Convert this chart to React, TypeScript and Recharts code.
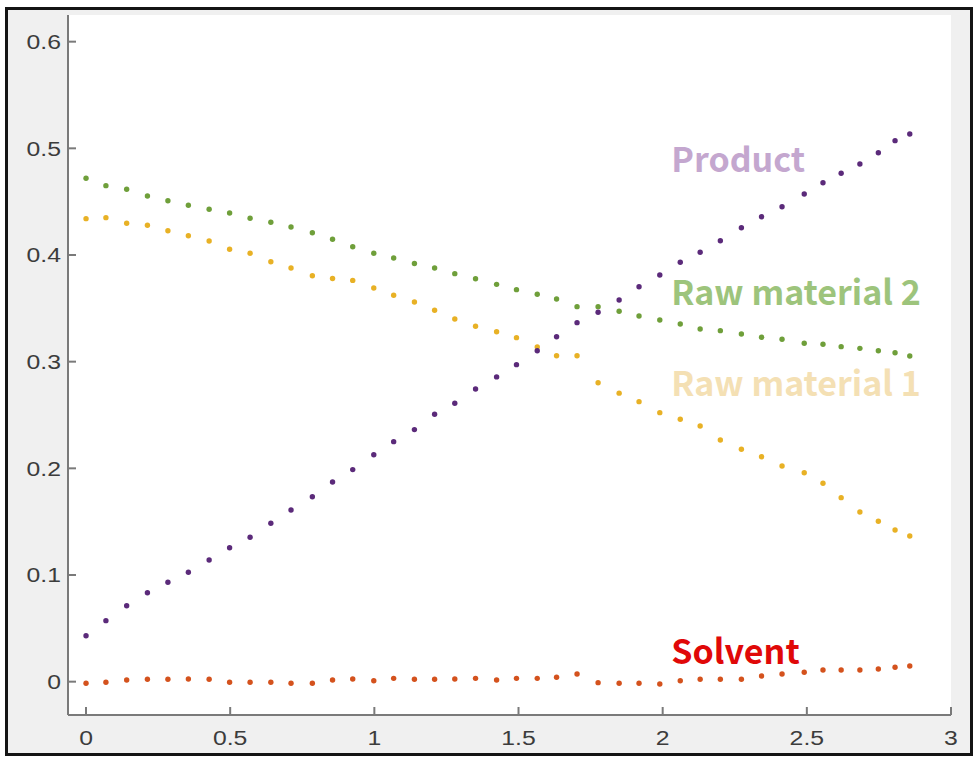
import React from 'react';
import { ScatterChart, Scatter, XAxis, YAxis, CartesianGrid, ReferenceDot } from 'recharts';

const time = [
  0, 0.069, 0.141, 0.213, 0.284, 0.355, 0.427, 0.498, 0.569, 0.641,
  0.711, 0.785, 0.855, 0.925, 0.998, 1.067, 1.139, 1.209, 1.279, 1.351,
  1.424, 1.493, 1.565, 1.632, 1.703, 1.776, 1.849, 1.918, 1.99, 2.061,
  2.13, 2.2, 2.273, 2.343, 2.414, 2.491, 2.556, 2.619, 2.684, 2.748,
  2.806, 2.857,
];

const product = [
  0.0431, 0.0572, 0.0712, 0.0834, 0.0932, 0.1026, 0.114, 0.1256, 0.1354, 0.1485,
  0.161, 0.1734, 0.1872, 0.1988, 0.2128, 0.225, 0.2363, 0.2507, 0.261, 0.2744,
  0.2857, 0.2972, 0.3103, 0.3234, 0.3366, 0.3463, 0.3578, 0.3702, 0.3813, 0.3932,
  0.4026, 0.4134, 0.4256, 0.4359, 0.4453, 0.4572, 0.4678, 0.4766, 0.4853, 0.4959,
  0.5072, 0.5134,
];

const rawMaterial2 = [
  0.4719, 0.465, 0.4616, 0.4553, 0.4509, 0.4466, 0.4429, 0.4394, 0.4344, 0.4307,
  0.4263, 0.4209, 0.4147, 0.4078, 0.4016, 0.3972, 0.392, 0.3878, 0.3825, 0.3778,
  0.3725, 0.3675, 0.3632, 0.3588, 0.3516, 0.3516, 0.3472, 0.3428, 0.3391, 0.3353,
  0.3306, 0.3291, 0.326, 0.3229, 0.321, 0.3172, 0.3163, 0.3141, 0.3125, 0.3103,
  0.3084, 0.3053,
];

const rawMaterial1 = [
  0.4341, 0.435, 0.4297, 0.4279, 0.4228, 0.4181, 0.4131, 0.4054, 0.4016, 0.3937,
  0.3878, 0.3806, 0.378, 0.3762, 0.3691, 0.3622, 0.356, 0.3482, 0.34, 0.3332,
  0.3281, 0.3225, 0.3138, 0.3056, 0.3056, 0.2803, 0.2705, 0.2625, 0.2522, 0.246,
  0.2397, 0.2266, 0.2179, 0.2109, 0.2022, 0.1959, 0.186, 0.1725, 0.1591, 0.1504,
  0.1422, 0.1366,
];

const solvent = [
  -0.0015, -0.0006, 0.0016, 0.0022, 0.0022, 0.0025, 0.0022, -0.0006, -0.0006, -0.0006,
  -0.0015, -0.0015, 0.0016, 0.0025, 0.0009, 0.0031, 0.0022, 0.0022, 0.0025, 0.0031,
  0.0016, 0.0031, 0.0031, 0.0041, 0.0072, -0.0009, -0.0015, -0.0015, -0.0022, 0.0009,
  0.0022, 0.0022, 0.0022, 0.0053, 0.0072, 0.0088, 0.011, 0.011, 0.011, 0.0119,
  0.0135, 0.0147,
];

const xTicks = [0, 0.5, 1, 1.5, 2, 2.5, 3];
const yTicks = [0, 0.1, 0.2, 0.3, 0.4, 0.5, 0.6];

const annotations = [
  { text: 'Product', x: 2.03, y: 0.478, color: '#c4a7cf' },
  { text: 'Raw material 2', x: 2.03, y: 0.353, color: '#9dc47c' },
  { text: 'Raw material 1', x: 2.03, y: 0.268, color: '#f4e0b4' },
  { text: 'Solvent', x: 2.03, y: 0.0166, color: '#e00808' },
];

const toPoints = (ys: number[]) => time.map((x, i) => ({ x, y: ys[i] }));

const Dot = (props: any) => {
  const { cx, cy, fill } = props;
  if (cx == null || cy == null) return null;
  return <circle cx={cx} cy={cy} r={2.7} fill={fill} />;
};

const TICK_FONT = 'Liberation Sans, Arial, sans-serif';

const XTick = (props: any) => {
  const { x, y, payload } = props;
  return (
    <text
      transform={`translate(${x},${y}) scale(1.18,1)`}
      textAnchor="middle"
      dy="0.71em"
      fontSize={21}
      fontFamily={TICK_FONT}
      fill="#3c3c3c"
    >
      {String(payload.value)}
    </text>
  );
};

const YTick = (props: any) => {
  const { x, y, payload } = props;
  return (
    <text
      transform={`translate(${x},${y}) scale(1.18,1)`}
      textAnchor="end"
      dy="0.355em"
      fontSize={21}
      fontFamily={TICK_FONT}
      fill="#3c3c3c"
    >
      {String(payload.value)}
    </text>
  );
};

const makeLabel = (text: string, color: string) => (p: any) => {
  const vb = p.viewBox || {};
  const x = (vb.x ?? 0) + (vb.width ?? 0) / 2;
  const y = (vb.y ?? 0) + (vb.height ?? 0) / 2;
  return (
    <text
      x={x}
      y={y}
      fill={color}
      fontSize={34}
      fontWeight={700}
      fontFamily="Noto Sans CJK SC, Noto Sans, sans-serif"
      textAnchor="start"
    >
      {text}
    </text>
  );
};

export default function App() {
  return (
    <div style={{ position: 'absolute', left: 0, top: 0, width: 976, height: 760, background: '#ffffff' }}>
      <div
        style={{
          position: 'absolute',
          left: 5,
          top: 7,
          width: 968,
          height: 749,
          border: '3.5px solid #141414',
          boxSizing: 'border-box',
          background: '#f0f0f0',
        }}
      />
      <div style={{ position: 'absolute', left: 0, top: 0 }}>
        <ScatterChart width={976} height={760} margin={{ top: 15, right: 25, bottom: 15, left: 0 }}>
          <CartesianGrid fill="#ffffff" horizontal={false} vertical={false} stroke="none" />
          <XAxis
            type="number"
            dataKey="x"
            domain={[-0.0625, 3]}
            ticks={xTicks}
            allowDataOverflow
            height={30}
            axisLine={{ stroke: '#7a7a7a', strokeWidth: 2 }}
            tickLine={{ stroke: '#7a7a7a', strokeWidth: 2 }}
            tickSize={-8}
            tickMargin={23}
            tick={<XTick />}
            interval={0}
          />
          <YAxis
            type="number"
            dataKey="y"
            domain={[-0.03125, 0.625]}
            ticks={yTicks}
            allowDataOverflow
            width={68}
            axisLine={{ stroke: '#7a7a7a', strokeWidth: 2 }}
            tickLine={{ stroke: '#7a7a7a', strokeWidth: 2 }}
            tickSize={-8}
            tickMargin={15}
            tick={<YTick />}
            interval={0}
          />
          <Scatter name="Raw material 1" data={toPoints(rawMaterial1)} fill="#e8b125" shape={Dot} isAnimationActive={false} />
          <Scatter name="Raw material 2" data={toPoints(rawMaterial2)} fill="#6f9f3a" shape={Dot} isAnimationActive={false} />
          <Scatter name="Product" data={toPoints(product)} fill="#5b2a7a" shape={Dot} isAnimationActive={false} />
          <Scatter name="Solvent" data={toPoints(solvent)} fill="#d4521d" shape={Dot} isAnimationActive={false} />
          {annotations.map((a) => (
            <ReferenceDot
              key={a.text}
              x={a.x}
              y={a.y}
              r={0}
              fill="none"
              stroke="none"
              label={{ content: makeLabel(a.text, a.color) }}
            />
          ))}
        </ScatterChart>
      </div>
    </div>
  );
}
